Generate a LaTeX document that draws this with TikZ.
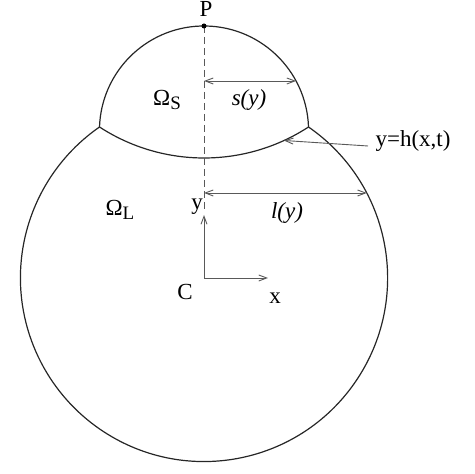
\documentclass[tikz,border=0pt]{standalone}
\usepackage{fontspec}
\setmainfont{Liberation Serif}
\usetikzlibrary{arrows.meta}
\begin{document}
\begin{tikzpicture}[x=0.5pt, y=0.5pt, > = {Straight Barb[length=4pt,width=3pt]},
lbl/.style={inner sep=0pt, font=\fontsize{11.5}{13}\selectfont},
dim/.style={<->, draw=black!65, line width=0.45pt},
axis/.style={->, draw=black!65, line width=0.45pt},
curve/.style={draw=black!85, line width=0.6pt}]
\useasboundingbox (0,0) rectangle (474,474);

%centres and junctions
\coordinate (C) at (204,196);
\coordinate (jl) at (99.5,347);
\coordinate (jr) at (308.5,347);
\coordinate (P) at (204,448);
\coordinate (dend) at (204,262);

%the three arcs
\draw[curve] (jr) arc[start angle=55.31, end angle=-235.31, radius=183.6];
\draw[curve] (jr) arc[start angle=1.95, end angle=178.05, radius=104.56];
\draw[curve] (jl) arc[start angle=236.95, end angle=303.05, radius=191.63];

%symmetry line and top point
\draw[dashed, dash pattern=on 3.5pt off 2pt, black!65, line width=0.5pt] (P) -- (dend);
\fill (P) circle[radius=2.5];
\node (lP) [lbl] at (206,465) {P};

%widths
\coordinate (s0) at (204,393);
\coordinate (s1) at (296.1,393);
\draw[dim] (s0) -- (s1);
\coordinate (l0) at (204,281);
\coordinate (l1) at (366.8,281);
\draw[dim] (l0) -- (l1);
\node (ls) [lbl] at (249,374) {\textit{s(y)}};
\node (ll) [lbl] at (287,261) {\textit{l(y)}};

%phases
\node (oS) [lbl] at (167,374) {Ω\raisebox{-0.45ex}{\fontsize{9.5}{11}\selectfont S}};
\node (oL) [lbl] at (120,264) {Ω\raisebox{-0.45ex}{\fontsize{9.5}{11}\selectfont L}};

%interface label
\node (lh) [lbl] at (413,333) {y=h(x,t)};
\coordinate (hs) at (368,328);
\coordinate (he) at (284,333.5);
\draw[axis] (hs) -- (he);

%axes
\coordinate (yend) at (204,259);
\coordinate (xend) at (268,196);
\draw[axis] (C) -- (yend);
\draw[axis] (C) -- (xend);
\node (lC) [lbl] at (185,182) {C};
\node (lx) [lbl] at (275,176) {x};
\node (ly) [lbl] at (197,267) {y};

\end{tikzpicture}
\end{document}
